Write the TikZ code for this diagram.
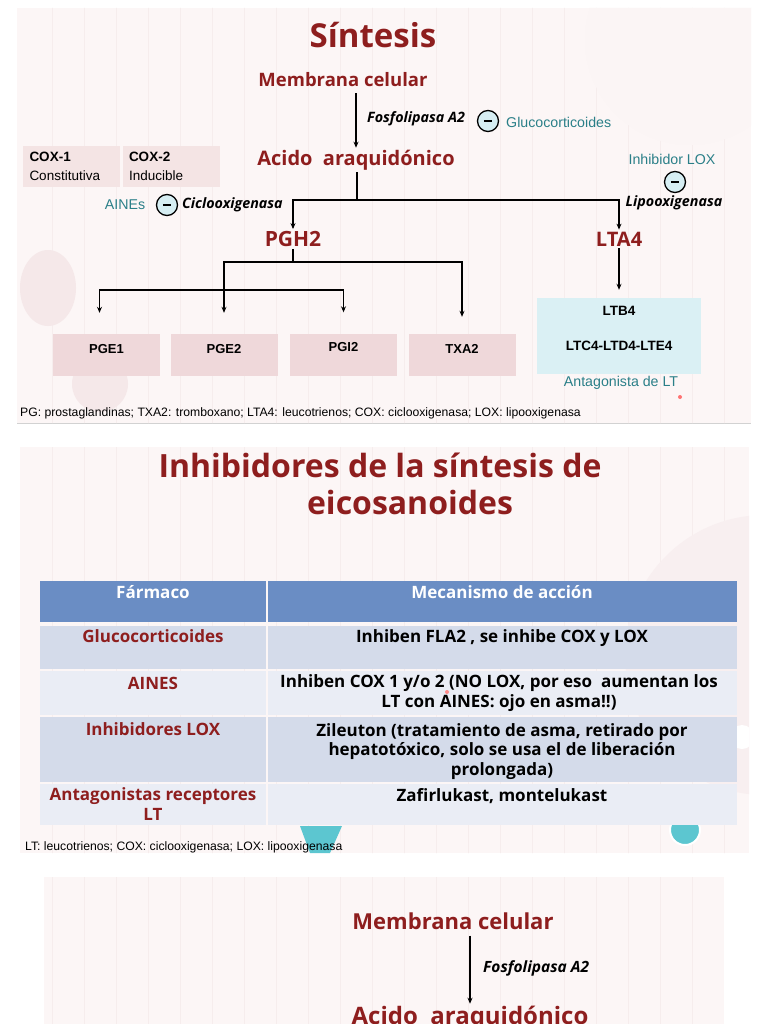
\documentclass[tikz,border=0pt]{standalone}
\usepackage{fontspec}
\setmainfont{Liberation Sans}
\newfontfamily\osans{Open Sans}
\usetikzlibrary{positioning, arrows.meta, calc}

\definecolor{titlered}{HTML}{8E1E1E}
\definecolor{drugteal}{HTML}{2A7F88}
\definecolor{slidebg}{HTML}{FCF6F6}
\definecolor{stripe}{HTML}{F6EDED}
\definecolor{coxfill}{HTML}{F4E4E4}
\definecolor{pgfill}{HTML}{EFD8DA}
\definecolor{ltfill}{HTML}{DAF0F4}
\definecolor{minusfill}{HTML}{D6EEF3}
\definecolor{headblue}{HTML}{6A8DC4}
\definecolor{rowdark}{HTML}{D4DBEA}
\definecolor{rowlight}{HTML}{EAEDF5}
\definecolor{blobpink}{HTML}{F3E2E3}
\definecolor{blobteal}{HTML}{5CC6D0}

\newcommand{\minusbar}{\rule[-1.1pt]{8.5pt}{2.2pt}}

\begin{document}
\begin{tikzpicture}[
    x=1pt, y=-1pt,
    heading/.style={font=\osans\bfseries\fontsize{33}{37}\selectfont, text=titlered, align=center},
    stage/.style={font=\osans\bfseries\fontsize{20}{24}\selectfont, text=titlered, inner sep=2pt},
    enzyme/.style={font=\osans\bfseries\itshape\fontsize{14.3}{16}\selectfont, inner sep=1pt},
    drug/.style={font=\fontsize{14.2}{16}\selectfont, text=drugteal, inner sep=1pt},
    minus/.style={circle, draw=black, line width=1.3pt, fill=minusfill, minimum size=21pt, inner sep=0pt},
    coxcell/.style={fill=coxfill, minimum width=97pt, minimum height=41pt, text width=84pt, align=left, font=\fontsize{13.5}{19}\selectfont, inner sep=0pt},
    pgbox/.style={fill=pgfill, minimum width=107pt, minimum height=42pt, text depth=13pt, font=\bfseries\fontsize{13}{15}\selectfont},
    ltlabel/.style={font=\bfseries\fontsize{13.5}{15}\selectfont},
    link/.style={line width=1.2pt},
    arr/.style={link, -{Stealth[length=6pt, width=5pt]}},
    note/.style={font=\fontsize{12.2}{14}\selectfont, anchor=west, inner sep=0pt},
    cell/.style={font=\osans\bfseries\fontsize{17}{19.5}\selectfont, anchor=base, align=center, inner sep=0pt}
]
    \useasboundingbox (0,0) rectangle (768,1024);
    \fill[white] (0,0) rectangle (768,1024);

    % slide panels
    \fill[slidebg] (17,8) rectangle (751,423);
    \fill[slidebg] (20,447) rectangle (749,853);
    \fill[slidebg] (44,877) rectangle (724,1030);
    \draw[gray!35] (17,423) -- (751,423);

    \begin{scope}
        \clip (17,8) rectangle (751,423) (20,447) rectangle (749,853) (44,877) rectangle (724,1030);
        \foreach \x in {52,84,...,740}
            \draw[stripe, line width=0.8pt] (\x,0) -- (\x,1030);
        % decorative blobs
        \fill[blobpink!35] (690,40) circle (105);
        \fill[blobpink!80] (48,288) ellipse (28 and 38);
        \fill[blobpink!80] (100,384) circle (28);
        \fill[blobpink!55] (765,655) circle (140);
        \fill[white] (742,737) circle (12);
        \fill[blobteal, draw=white, line width=2pt] (685,830) circle (15);
        \fill[blobteal] (300,826) -- (342,826) -- (330,853) -- (310,853) -- cycle;
    \end{scope}

    % slide 1: pathway
    \node[heading] (synth) at (373,35) {Síntesis};
    \node[stage, font=\osans\bfseries\fontsize{18.5}{22}\selectfont] (membrana) at (343,80) {Membrana celular};
    \node[stage] (acido) at (356,160) {Acido~~araquidónico};
    \draw[arr, shorten <=4pt] (membrana.south -| acido.north) -- (acido.north);
    \node[enzyme, anchor=west] (fosfo) at (366,119) {Fosfolipasa A2};
    \node[minus] (inhFLA) at (488,121) {\minusbar};
    \node[drug, anchor=west] (gluco) at (505,122) {Glucocorticoides};

    \node[coxcell] (cox1) at (71.5,166.5) {\textbf{COX-1}\\Constitutiva};
    \node[coxcell] (cox2) at (171,166.5) {\textbf{COX-2}\\Inducible};

    \coordinate (fork) at (357,200);
    \node[stage, font=\osans\bfseries\fontsize{21}{24}\selectfont] (pgh2) at (293,239) {PGH2};
    \node[stage] (lta4) at (619,239) {LTA4};
    \draw[link] (acido.south -| fork) -- (fork);
    \draw[arr] (fork) -| (pgh2.north);
    \draw[arr] (fork) -| (lta4.north);

    \node[drug] (aines) at (125,205) {AINEs};
    \node[minus] (inhCOX) at (167,205) {\minusbar};
    \node[enzyme, anchor=west] (ciclo) at (181,205) {Ciclooxigenasa};
    \node[drug] (inhlox) at (672,159) {Inhibidor LOX};
    \node[minus] (inhLOX) at (675,182) {\minusbar};
    \node[enzyme] (lipo) at (674,203) {Lipooxigenasa};

    \node[pgbox] (pge1) at (106.5,355) {PGE1};
    \node[pgbox] (pge2) at (224,355) {PGE2};
    \node[pgbox, text depth=16pt] (pgi2) at (343.5,354.5) {PGI2};
    \node[pgbox] (txa2) at (462,355) {TXA2};

    \coordinate (pgfork) at (293,262);
    \coordinate (pgbar) at (224,290);
    \draw[link] (pgh2.south) -- (pgfork);
    \draw[arr, shorten >=17pt] (pgfork) -| (txa2.north);
    \draw[arr, shorten >=21pt] (pgfork) -| (pge2.north);
    \draw[arr, shorten >=21pt] (pgbar) -| ([xshift=-7pt]pge1.north);
    \draw[arr, shorten >=21pt] (pgbar) -| (pgi2.north);

    \node[fill=ltfill, minimum width=164pt, minimum height=76pt] (ltbox) at (619,336) {};
    \node[ltlabel] (ltb4) at (619,311) {LTB4};
    \node[ltlabel] (ltcde) at (619,346) {LTC4-LTD4-LTE4};
    \draw[arr, shorten >=8pt] (lta4.south) -- (ltbox.north);
    \node[drug] (antag) at (621,383) {Antagonista de LT};
    \fill[red!55] (680,397) circle (2);

    \node[note] (legend1) at (20,413) {PG: prostaglandinas; TXA2: tromboxano; LTA4: leucotrienos; COX: ciclooxigenasa; LOX: lipooxigenasa};

    % slide 2: table of inhibitors
    \node[heading, font=\osans\bfseries\fontsize{32}{37}\selectfont] (inhib) at (380,484) {Inhibidores de la síntesis de\\\hspace*{60pt}eicosanoides};

    \foreach \top/\bot/\tone in {581/622/headblue, 626/669/rowdark, 671/715/rowlight, 717/782/rowdark, 784/825/rowlight} {
        \fill[\tone] (40,\top) rectangle (266,\bot);
        \fill[\tone] (268,\top) rectangle (737,\bot);
    }

    % base of a cell = baseline of its last line
    \node[cell, text=white] (hdrdrug) at (153,598) {Fármaco};
    \node[cell, text=white] (hdrmech) at (502,598) {Mecanismo de acción};
    \node[cell, text=titlered] (glucod) at (153,642) {Glucocorticoides};
    \node[cell] (glucom) at (502,642) {Inhiben FLA2 , se inhibe COX y LOX};
    \node[cell, text=titlered] (ainesd) at (153,689) {AINES};
    \node[cell] (ainesm) at (499,707) {Inhiben COX 1 y/o 2 (NO LOX, por eso~~aumentan los\\LT con AINES: ojo en asma!!)};
    \node[cell, text=titlered] (loxd) at (153,735) {Inhibidores LOX};
    \node[cell] (loxm) at (502,775) {Zileuton (tratamiento de asma, retirado por\\hepatotóxico, solo se usa el de liberación\\prolongada)};
    \node[cell, text=titlered] (antd) at (153,820) {Antagonistas receptores\\LT};
    \node[cell] (antm) at (502,801) {Zafirlukast, montelukast};
    \fill[red!45] (447,692) circle (2);

    \node[note] (legend2) at (25,847) {LT: leucotrienos; COX: ciclooxigenasa; LOX: lipooxigenasa};

    % slide 3: start of pathway again
    \node[stage, font=\osans\bfseries\fontsize{22}{26}\selectfont] (membrana3) at (453,921) {Membrana celular};
    \node[stage, font=\osans\bfseries\fontsize{24}{28}\selectfont] (acido3) at (470,1018) {Acido~~araquidónico};
    \draw[arr, shorten <=4pt] (membrana3.south -| acido3.north) -- (acido3.north);
    \node[enzyme, anchor=west, font=\osans\bfseries\itshape\fontsize{15.5}{18}\selectfont] (fosfo3) at (482,968) {Fosfolipasa A2};
\end{tikzpicture}
\end{document}
